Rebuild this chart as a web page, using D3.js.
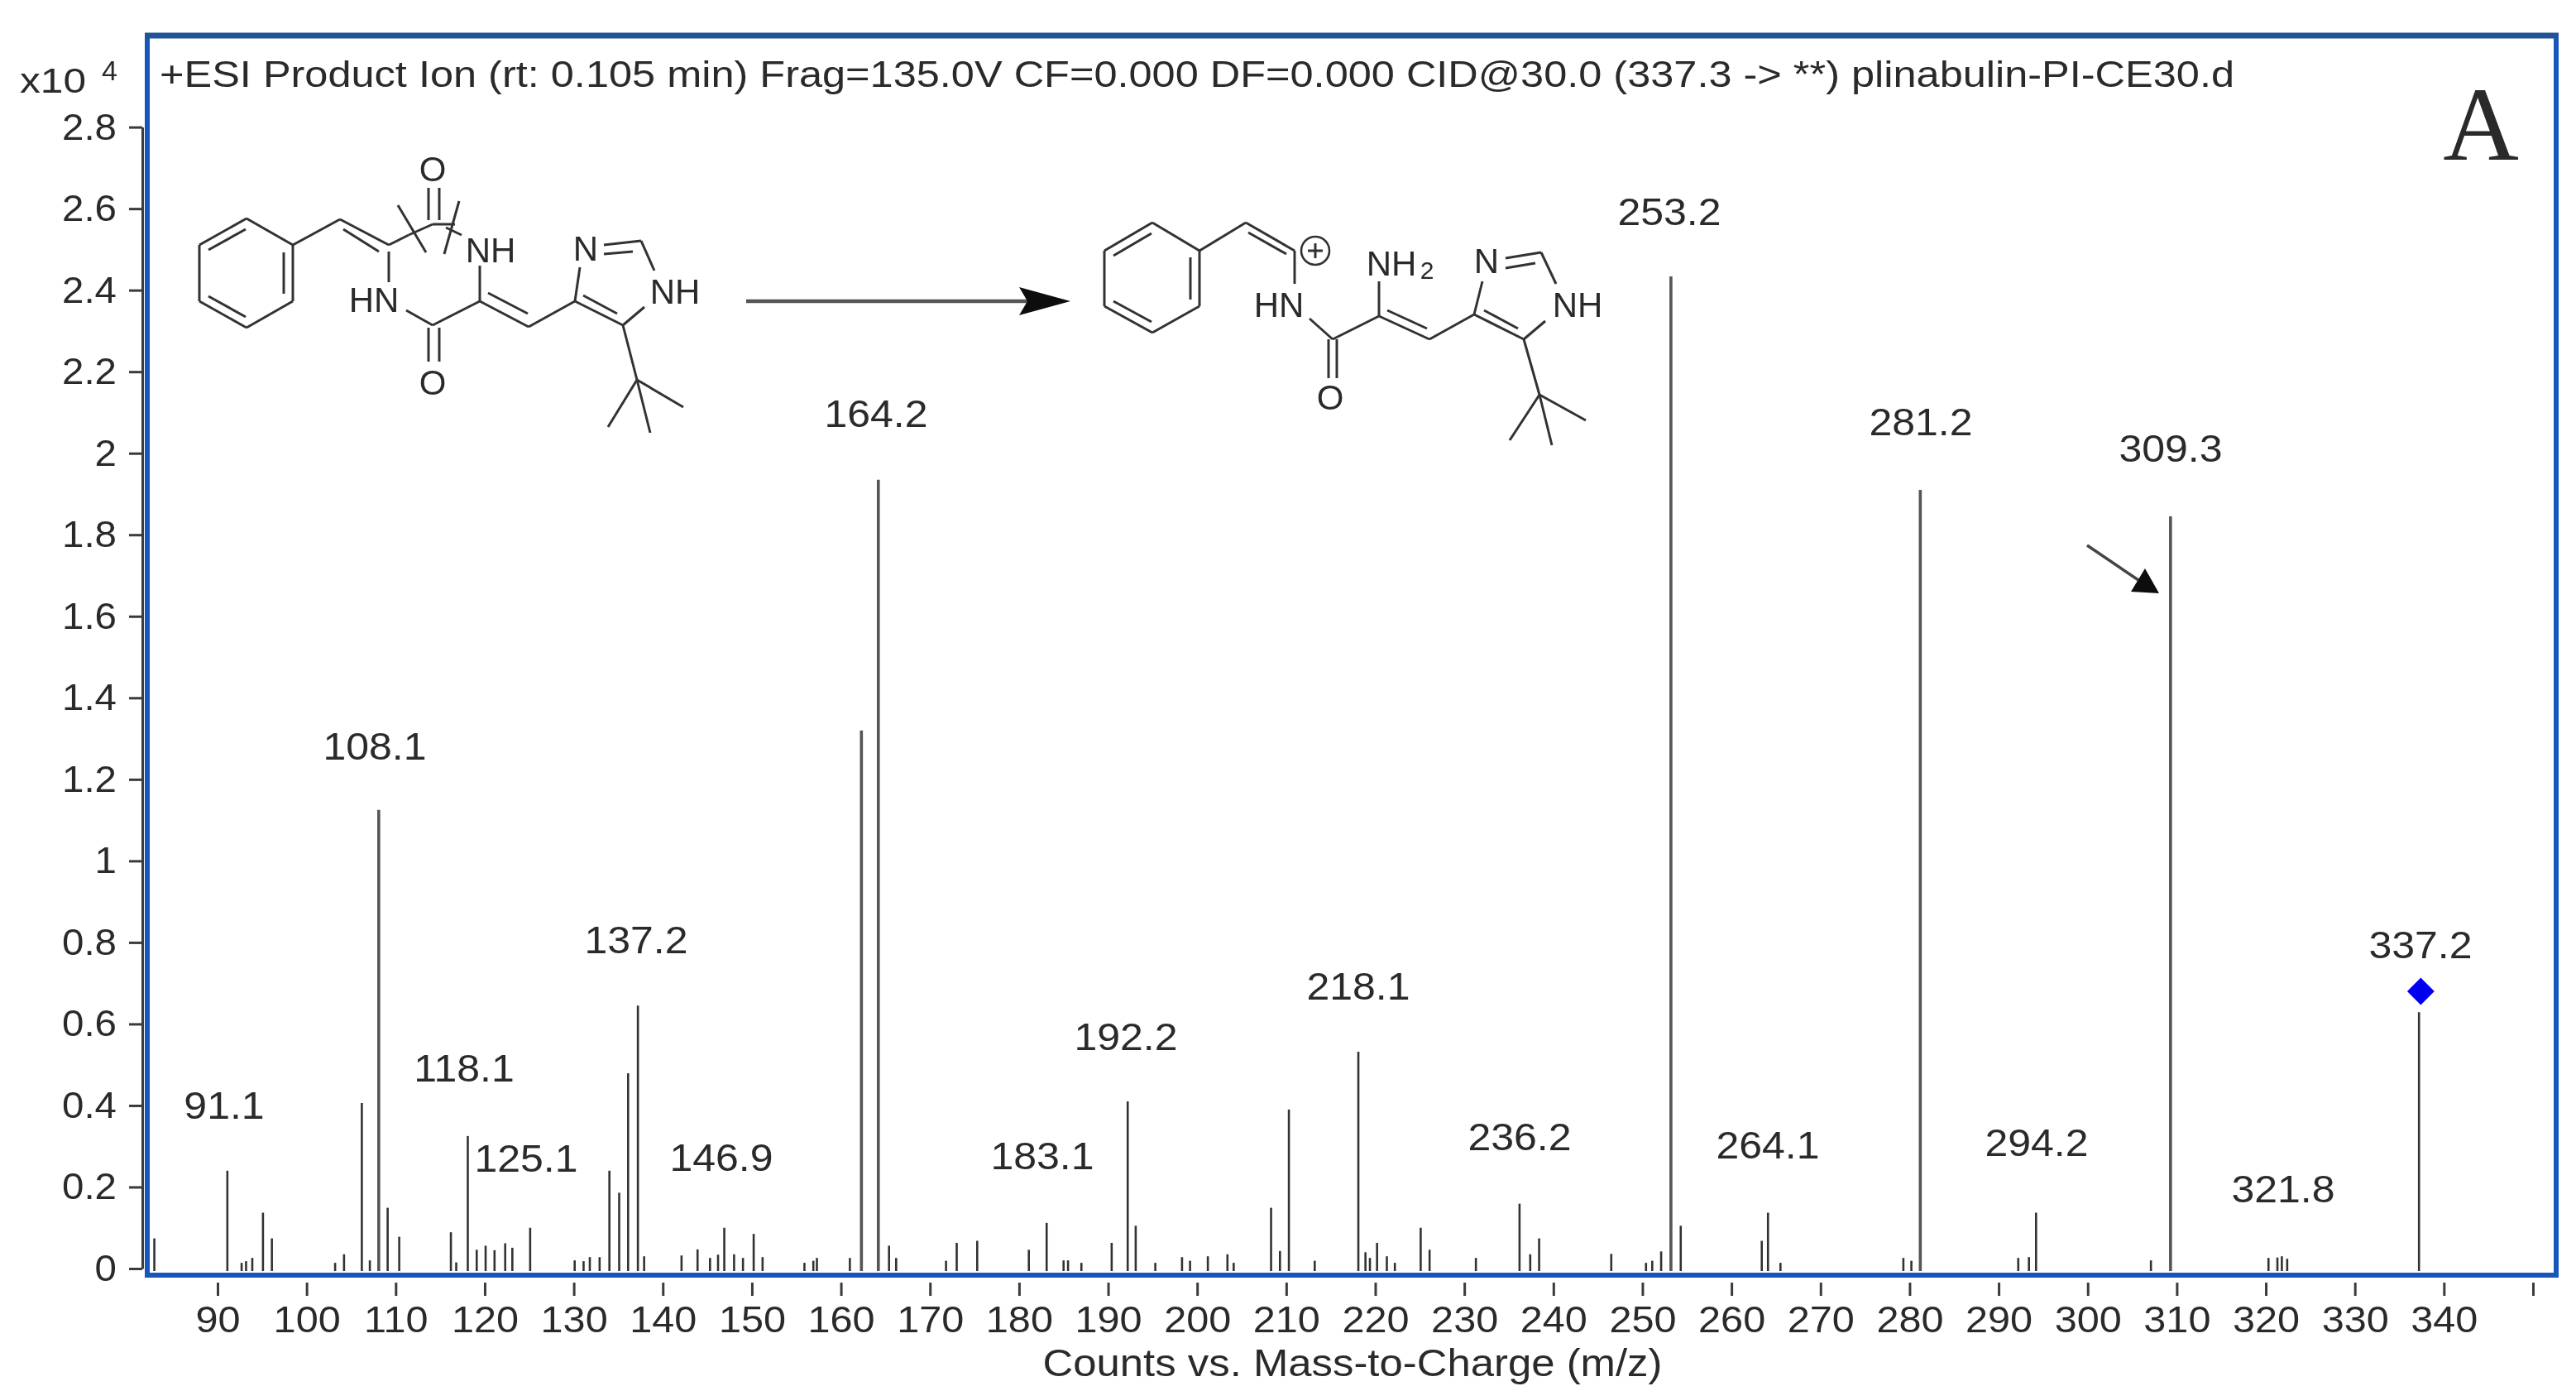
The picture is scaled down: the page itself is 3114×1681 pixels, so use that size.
<!DOCTYPE html>
<html>
<head>
<meta charset="utf-8">
<title>plinabulin product ion spectrum</title>
<script src="https://cdnjs.cloudflare.com/ajax/libs/d3/7.8.5/d3.min.js"></script>
<style>
  html, body { margin: 0; padding: 0; background: #fff; }
  svg { display: block; }
  text { font-family: "Liberation Sans", Arial, sans-serif; fill: #2a2a2a; }
</style>
</head>
<body>
<div id="plot"></div>
<script>
// spectrum
var mz = [82.9, 91.1, 92.7, 93.2, 93.9, 95.1, 96.1, 103.2, 104.2, 106.2, 107.1, 108.1, 109.1, 110.4,
  116.2, 116.8, 118.1, 119.1, 120.1, 121.1, 122.3, 123.1, 125.1, 130.1, 131.1, 131.8, 132.9, 134, 135.1, 136.1, 137.2, 137.9,
  142.1, 143.9, 145.3, 146.2, 146.9, 148, 149, 150.2, 151.2, 155.9, 156.9, 157.3, 161, 162.3, 164.2, 165.4, 166.2,
  171.8, 173, 175.3, 181.1, 183.1, 185, 185.5, 187, 190.4, 192.2, 193.1, 195.3, 198.3, 199.2, 201.2, 203.4, 204.1,
  208.3, 209.3, 210.3, 213.2, 218.1, 218.9, 219.4, 220.2, 221.3, 222.2, 225.1, 226.1, 231.3, 236.2, 237.4, 238.4,
  246.5, 250.4, 251.1, 252.1, 253.2, 254.3, 263.4, 264.1, 265.5, 279.3, 280.2, 281.2,
  292.2, 293.4, 294.2, 307.1, 309.3, 320.3, 321.3, 321.8, 322.4, 337.2];
var counts = [0.074, 0.24, 0.014, 0.018, 0.026, 0.137, 0.074, 0.014, 0.035, 0.406, 0.02, 1.125, 0.149, 0.078,
  0.089, 0.015, 0.325, 0.046, 0.056, 0.045, 0.062, 0.051, 0.1, 0.02, 0.018, 0.028, 0.028, 0.24, 0.186, 0.479, 0.645, 0.03,
  0.032, 0.047, 0.026, 0.034, 0.1, 0.035, 0.026, 0.085, 0.028, 0.014, 0.019, 0.026, 0.026, 1.32, 1.935, 0.056, 0.026,
  0.019, 0.063, 0.068, 0.046, 0.112, 0.02, 0.02, 0.014, 0.063, 0.41, 0.105, 0.014, 0.028, 0.019, 0.03, 0.035, 0.014,
  0.149, 0.043, 0.39, 0.019, 0.532, 0.04, 0.026, 0.063, 0.03, 0.014, 0.1, 0.046, 0.026, 0.159, 0.035, 0.074,
  0.036, 0.014, 0.019, 0.042, 2.434, 0.105, 0.068, 0.137, 0.014, 0.026, 0.019, 1.91,
  0.026, 0.028, 0.137, 0.02, 1.845, 0.026, 0.027, 0.03, 0.024, 0.629];

var peakLabels = ["91.1", "108.1", "118.1", "125.1", "137.2", "146.9", "164.2", "183.1", "192.2", "218.1",
  "236.2", "253.2", "264.1", "281.2", "294.2", "309.3", "321.8", "337.2"];

var xTicks = d3.range(90, 351, 10);
var yTicks = [0, 0.2, 0.4, 0.6, 0.8, 1, 1.2, 1.4, 1.6, 1.8, 2, 2.2, 2.4, 2.6, 2.8];
var precursor = { mz: 337.4, counts: 0.68 };

// where the annotations sit, pixels
var labelX = [271, 453, 561, 636, 769, 872, 1059, 1260, 1361, 1642, 1837, 2018, 2137, 2322, 2462, 2624, 2760, 2926];
var labelY = [1352, 918, 1307, 1416, 1152, 1415, 516, 1413, 1269, 1208, 1390, 272, 1400, 526, 1397, 558, 1453, 1158];

var W = 3114, H = 1681;
var blue = "#1556bd", ink = "#3a3a3a";

var root = d3.select("#plot").append("svg").attr("width", W).attr("height", H);

// the reference is a soft scan
root.append("filter").attr("id", "soft")
  .attr("filterUnits", "userSpaceOnUse")
  .attr("x", 0).attr("y", 0).attr("width", W).attr("height", H)
  .append("feGaussianBlur").attr("stdDeviation", 0.7);

var svg = root.append("g").attr("filter", "url(#soft)");

// widen glyphs without making them taller
function stretch(sel, k) {
  sel.each(function() {
    var t = d3.select(this);
    if (!t.text()) return;
    t.attr("textLength", this.getComputedTextLength() * k).attr("lengthAdjust", "spacingAndGlyphs");
  });
}

var x = d3.scaleLinear().domain([90, 350]).range([263, 3062]);
var y = d3.scaleLinear().domain([0, 2.8]).range([1533, 153.6]);

// axes
var xAxis = svg.append("g")
  .attr("transform", "translate(0,1550)")
  .call(d3.axisBottom(x).tickValues(xTicks).tickSize(16).tickPadding(12)
    .tickFormat(function(d) { return d === 350 ? "" : d; }));
xAxis.select(".domain").remove();

var yAxis = svg.append("g")
  .attr("transform", "translate(172,0)")
  .call(d3.axisLeft(y).tickValues(yTicks).tickSize(16).tickSizeOuter(0).tickPadding(15)
    .tickFormat(function(d) { return d; }));

svg.selectAll(".tick text").style("font-size", "45px").style("font-family", "'Liberation Sans'").attr("fill", "#2a2a2a");
svg.selectAll(".tick line").attr("stroke", ink).attr("stroke-width", 3);
yAxis.select(".domain").attr("stroke", ink).attr("stroke-width", 3);
xAxis.selectAll(".tick text").attr("dy", "0.72em");
stretch(xAxis.selectAll(".tick text"), 1.08);
stretch(yAxis.selectAll(".tick text"), 1.055);

// peaks
svg.append("g").selectAll("line").data(mz).enter().append("line")
  .attr("x1", function(d) { return x(d); })
  .attr("x2", function(d) { return x(d); })
  .attr("y1", y(0) + 3)
  .attr("y2", function(d, i) { return y(counts[i]); })
  .attr("stroke", function(d, i) { return counts[i] > 1 ? "#555" : "#333"; })
  .attr("stroke-width", function(d, i) { return counts[i] > 1 ? 3.6 : 2.6; });

svg.append("path")
  .attr("d", d3.symbol().type(d3.symbolSquare).size(540))
  .attr("transform", "translate(" + x(precursor.mz) + "," + y(precursor.counts) + ") rotate(45)")
  .attr("fill", "#0000f0");

// frame goes over the foot of the peaks
svg.append("rect")
  .attr("x", 178).attr("y", 43).attr("width", 2912).attr("height", 1498)
  .attr("fill", "none").attr("stroke", blue).attr("stroke-width", 6);
svg.append("line").attr("x1", 175).attr("x2", 3093).attr("y1", 43).attr("y2", 43)
  .attr("stroke", "#235296").attr("stroke-width", 7);

svg.append("g").selectAll("text").data(peakLabels).enter().append("text")
  .attr("x", function(d, i) { return labelX[i]; })
  .attr("y", function(d, i) { return labelY[i]; })
  .attr("text-anchor", "middle")
  .style("font-size", "46px")
  .text(function(d) { return d; })
  .call(stretch, 1.087);

svg.append("text").attr("x", 193).attr("y", 105).style("font-size", "44px")
  .attr("textLength", 2508).attr("lengthAdjust", "spacingAndGlyphs")
  .text("+ESI Product Ion (rt: 0.105 min) Frag=135.0V CF=0.000 DF=0.000 CID@30.0 (337.3 -> **) plinabulin-PI-CE30.d");
svg.append("text").attr("x", 24).attr("y", 112).style("font-size", "42px")
  .attr("textLength", 80).attr("lengthAdjust", "spacingAndGlyphs").text("x10");
svg.append("text").attr("x", 123).attr("y", 97).style("font-size", "34px").text("4");
svg.append("text").attr("x", 1635).attr("y", 1663).attr("text-anchor", "middle").style("font-size", "46px")
  .attr("textLength", 749).attr("lengthAdjust", "spacingAndGlyphs")
  .text("Counts vs. Mass-to-Charge (m/z)");
svg.append("text").attr("x", 2999).attr("y", 193).attr("text-anchor", "middle")
  .style("font-family", "'Liberation Serif'").style("font-size", "127px").attr("fill", "#111").text("A");

// structures, as line work
var bondsLeft = [
  [298,264,354,296],[354,296,354,364],[354,364,298,396],[298,396,241,364],[241,364,241,296],[241,296,298,264],
  [297,277,252,302],[343,305,343,355],[297,383,252,358],
  [354,296,411,265],[411,265,470,296],[415,277,458,304],[470,296,494,284],
  [481,248,515,305],[555,243,537,307],
  [518,227,518,266],[531,227,531,266],[494,284,523,271],[523,271,550,271],[539,275,558,284],
  [470,304,470,341],[491,375,523,393],[518,396,518,437],[531,396,531,437],
  [523,393,580,364],[580,321,580,364],[580,364,639,395],[590,354,638,379],[639,395,695,364],
  [695,364,701,323],[695,364,753,393],[705,357,746,379],[753,393,779,371],
  [730,296,775,291],[730,307,765,304],[775,291,791,327],
  [753,393,770,459],[770,459,826,492],[770,459,735,516],[770,459,786,523]
];
var bondsRight = [
  [1393,269,1450,303],[1450,303,1450,370],[1450,370,1393,402],[1393,402,1335,370],[1335,370,1335,303],[1335,303,1393,269],
  [1392,282,1346,309],[1439,311,1439,362],[1392,389,1346,364],
  [1450,303,1506,269],[1506,269,1565,303],[1509,281,1555,307],[1565,303,1565,343],
  [1583,385,1611,410],[1606,410,1606,457],[1616,410,1616,457],
  [1611,410,1667,382],[1667,340,1667,382],[1667,382,1728,410],[1677,375,1725,397],[1728,410,1782,380],
  [1782,380,1792,340],[1782,380,1842,410],[1794,375,1835,397],[1842,410,1868,388],
  [1820,312,1863,305],[1820,324,1856,318],[1863,305,1881,343],
  [1842,410,1861,477],[1861,477,1917,508],[1861,477,1825,532],[1861,477,1876,538],
  [1581,303,1599,303],[1590,294,1590,312]
];
var atoms = [
  ["O",523,204],["NH",593,302],["HN",452,362],["O",523,462],["N",708,300],["NH",816,352],
  ["HN",1546,368],["O",1608,480],["N",1797,315],["NH",1907,368],["NH",1682,318]
];

var mol = svg.append("g");
mol.selectAll("line").data(bondsLeft.concat(bondsRight)).enter().append("line")
  .attr("x1", function(d) { return d[0]; }).attr("y1", function(d) { return d[1]; })
  .attr("x2", function(d) { return d[2]; }).attr("y2", function(d) { return d[3]; })
  .attr("stroke", "#333").attr("stroke-width", 3);
mol.append("circle").attr("cx", 1590).attr("cy", 303).attr("r", 17)
  .attr("fill", "none").attr("stroke", "#333").attr("stroke-width", 2.6);
mol.selectAll("text").data(atoms).enter().append("text")
  .attr("x", function(d) { return d[1]; }).attr("y", function(d) { return d[2] + 15; })
  .attr("text-anchor", "middle").style("font-size", "42px").attr("fill", "#222")
  .text(function(d) { return d[0]; });
mol.append("text").attr("x", 1725).attr("y", 337).attr("text-anchor", "middle").style("font-size", "30px").text("2");

// reaction arrow and the pointer at 309.3
svg.append("line").attr("x1", 902).attr("y1", 364).attr("x2", 1250).attr("y2", 364)
  .attr("stroke", "#555").attr("stroke-width", 4.5);
svg.append("path").attr("d", d3.line()([[1232, 347], [1294, 364], [1232, 381], [1242, 364]])).attr("fill", "#111");
svg.append("line").attr("x1", 2523).attr("y1", 659).attr("x2", 2585).attr("y2", 701)
  .attr("stroke", "#444").attr("stroke-width", 3.5);
svg.append("path").attr("d", d3.line()([[2593, 687], [2610, 717], [2576, 715]])).attr("fill", "#111");
</script>
</body>
</html>
